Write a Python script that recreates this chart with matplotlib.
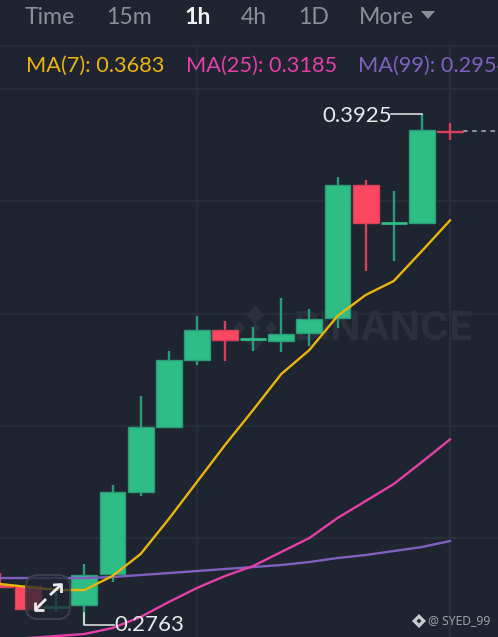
import matplotlib
matplotlib.use("Agg")
import matplotlib.pyplot as plt
from matplotlib.patches import FancyBboxPatch, Polygon

# ---- data ----
opens  = [.28530,.28516,.28039,.28084,.28789,.30654,.32132,.33656,.34338,.34133,.34088,.34270,.34611,.37635,.36771,.36771,.38863]
closes = [.28500,.27993,.28039,.28766,.30654,.32132,.33656,.34338,.34110,.34133,.34247,.34588,.37635,.36771,.36771,.38886,.38840]
highs  = [.28812,.28550,.28380,.29017,.30813,.32837,.33860,.34656,.34542,.34406,.35065,.34815,.37817,.37749,.37499,.39250,.39045]
lows   = [.28480,.27950,.27925,.27629,.28607,.30563,.32132,.33542,.33633,.33860,.33838,.33974,.34383,.35679,.35907,.36748,.38658]
ma7  = [.28562,.28494,.28425,.28425,.28744,.29244,.30040,.30881,.31723,.32519,.33337,.33883,.34656,.35134,.35452,.36134,.36830]
ma25 = [.27288,.27334,.27379,.27425,.27561,.27812,.28153,.28471,.28744,.28971,.29290,.29608,.30063,.30449,.30836,.31336,.31850]
ma99 = [.28698,.28698,.28698,.28698,.28721,.28766,.28812,.28857,.28903,.28948,.28994,.29062,.29153,.29221,.29312,.29403,.29540]
grid_prices = [.39813,.37270,.34700,.32150,.29600]
grid_candles = [7, 16]
tabs = ["Time", "15m", "1h", "4h", "1D", "More"]
legend = ["MA(7): 0.3683", "MA(25): 0.3185", "MA(99): 0.2954"]
high_label, low_label = "0.3925", "0.2763"
last_price = .38860

BG, GRID = "#1e2530", "#2a303b"
UP, UPE, DOWN, DOWNE = "#2ebd85", "#2a9a78", "#fb4860", "#d8405a"
YEL, PINK, PUR = "#edb40e", "#e63fa8", "#7f5fbf"
FONT = "Lato"

fig = plt.figure(figsize=(4.98, 6.37), dpi=100, facecolor=BG)
ax = fig.add_axes([0, 0, 1, 1], facecolor=BG)
ax.set_xlim(0, 498 / 28.125)
ax.set_ylim(0.27357, 0.41842)
ax.axis("off")

top = 0.4079  # bottom of the toolbar, in price
for p in grid_prices:
    ax.axhline(p, color=GRID, lw=1.2, zorder=1)
for c in grid_candles:
    ax.vlines(c, ax.get_ylim()[0], top, color=GRID, lw=1.2, zorder=1)
ax.axhline(top, color=GRID, lw=1.2, zorder=1)

# overlay in pixel coordinates for the interface furniture
ov = fig.add_axes([0, 0, 1, 1], facecolor="none")
ov.set_xlim(0, 498)
ov.set_ylim(637, 0)
ov.axis("off")

# watermark (under the candles)
wm = "#2b313c"
cx, cy = 255, 328
for dx, dy, r in [(0, -13, 9), (-16, 0, 6), (16, 0, 6), (0, 13, 9), (0, 0, 5)]:
    ov.add_patch(Polygon([(cx+dx, cy+dy-r), (cx+dx+r, cy+dy), (cx+dx, cy+dy+r), (cx+dx-r, cy+dy)],
                         closed=True, fc=wm, ec="none", zorder=0))
ov.set_zorder(0)
ax.set_zorder(1)
ax.patch.set_alpha(0)
ov.text(293, 329, "BINANCE", color=wm, fontsize=28.4, family="Inter", weight="bold",
        va="center", ha="left")

xs = list(range(len(opens)))
for i in xs:
    up = closes[i] >= opens[i]
    ax.vlines(i, lows[i], highs[i], color=UPE if up else DOWNE, lw=1.7, zorder=3)
    doji = closes[i] == opens[i]
    ax.bar(i, abs(closes[i]-opens[i]), bottom=min(opens[i], closes[i]), width=0.92,
           color=UP if up else DOWN, edgecolor=(UP if doji else UPE) if up else DOWNE,
           linewidth=2.0 if doji else 1.0, zorder=4)

ax.plot(xs, ma99, color=PUR, lw=1.7, zorder=5)
ax.plot(xs, ma25, color=PINK, lw=1.7, zorder=5)
ax.plot(xs, ma7, color=YEL, lw=1.7, zorder=6)

# last price dashed line
ax.hlines(last_price, 16.47, 498/28.125, color="#aeb2ba", lw=1.1, linestyle=(0, (3, 3)), zorder=3)

# top/bottom annotations
ax.plot([15, 13.9], [highs[15], highs[15]], color="#e8eaed", lw=1.1, zorder=7)
ax.plot([3, 3, 4.05], [.2790, lows[3], lows[3]], color="#e8eaed", lw=1.1, zorder=7)
ax.text(13.92, highs[15]-.0004, high_label, color="#e8eaed", fontsize=16, family=FONT, ha="right", va="center", zorder=8)
ax.text(4.05, lows[3]-.0000, low_label, color="#e8eaed", fontsize=16, family=FONT, ha="left", va="center", zorder=8)

# toolbar, drawn on top
tp = fig.add_axes([0, 0, 1, 1], facecolor="none")
tp.set_xlim(0, 498)
tp.set_ylim(637, 0)
tp.axis("off")
tp.set_zorder(5)
tab_x = [25, 106, 184, 241, 298, 359]
for t, x in zip(tabs, tab_x):
    sel = t == "1h"
    tp.text(x, 17.5, t, color="#f0f1f3" if sel else "#8a8f98", fontsize=16.6, family=FONT,
            weight="bold" if sel else "normal", ha="left", va="center")
tp.add_patch(Polygon([(421, 11), (435, 11), (428, 19)], closed=True, fc="#8a8f98", ec="none"))
for t, x, c in zip(legend, [26, 186, 358], [YEL, PINK, PUR]):
    tp.text(x, 66, t, color=c, fontsize=15.7, family=FONT, ha="left", va="center")

# expand button
tp.add_patch(FancyBboxPatch((26, 575), 44, 44, boxstyle="round,pad=0,rounding_size=12",
                            fc=(0.118, 0.145, 0.188, 0.75), ec="#3d424d", lw=1.3, zorder=9))
awhite = "#e8eaed"
for line in ([(50, 595), (61, 585)], [(53, 585), (61.5, 584.5), (61.5, 593)],
             [(46, 599), (35, 610)], [(35, 601.5), (35, 610), (43.5, 610)]):
    tp.plot([q[0] for q in line], [q[1] for q in line], color=awhite, lw=2, zorder=10, solid_capstyle="butt")

# credit
cx, cy = 419, 621
r = 7
tp.add_patch(Polygon([(cx, cy-r), (cx+r, cy), (cx, cy+r), (cx-r, cy)], closed=True, fc="#c8cbd0", ec="none"))
tp.add_patch(Polygon([(cx, cy-2.5), (cx+2.5, cy), (cx, cy+2.5), (cx-2.5, cy)], closed=True, fc=BG, ec="none"))
tp.text(428, 621, "@ SYED_99", color="#9a9fa8", fontsize=8.7, family="Noto Sans", ha="left", va="center")

fig.savefig("out.png", dpi=100, facecolor=BG)
